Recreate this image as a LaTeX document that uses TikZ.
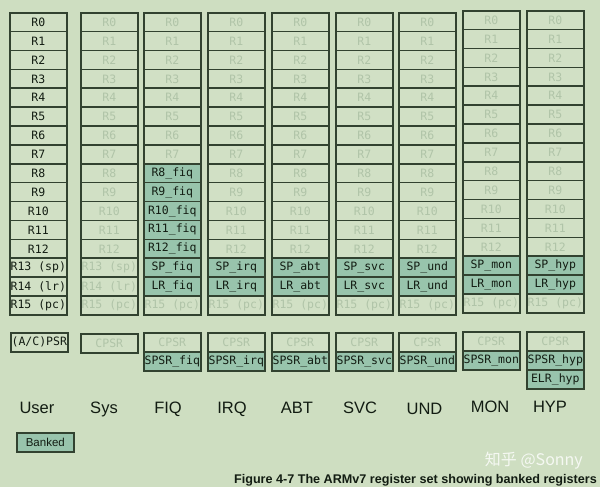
\documentclass[tikz,border=0pt]{standalone}
\usepackage{fontspec}
\setmainfont{Liberation Sans}
\newfontfamily\regfont{DejaVu Sans Mono}
\newfontfamily\cjkfont{Noto Sans CJK SC}
\definecolor{bg}{RGB}{206,222,193}
\definecolor{cellfill}{RGB}{209,224,197}
\definecolor{bankfill}{RGB}{152,196,172}
\definecolor{edge}{RGB}{50,66,48}
\definecolor{dim}{RGB}{176,196,168}
\definecolor{ink}{RGB}{18,28,18}
\tikzset{
  reg/.style={draw=edge, line width=1.6pt, fill=cellfill, minimum width=57pt,
    minimum height=18.875pt, inner sep=0pt, anchor=north west,
    font=\regfont\fontsize{11.5}{12}\selectfont, text=ink},
  dimreg/.style={reg, text=dim},
  bankreg/.style={reg, fill=bankfill},
  psr/.style={reg, minimum height=19pt},
  dimpsr/.style={psr, text=dim},
  bankpsr/.style={psr, fill=bankfill},
  modelabel/.style={font=\fontsize{16.5}{16.5}\selectfont, text=ink, anchor=base, inner sep=0pt},
}
\begin{document}
\begin{tikzpicture}[x=1pt,y=-1pt]
\fill[bg] (0,0) rectangle (600,487);
\useasboundingbox (0,0) rectangle (600,487);
% User column
\foreach \r in {0,...,12} \node[reg] (u\r) at (9,{12+\r*18.875}) {R\r};
\node[reg] (u13) at (9,{12+13*18.875}) {R13 (sp)};
\node[reg] (u14) at (9,{12+14*18.875}) {R14 (lr)};
\node[reg] (u15) at (9,{12+15*18.875}) {R15 (pc)};
% Sys column
\foreach \r in {0,...,12} \node[dimreg] (s\r) at (80,{12+\r*18.875}) {R\r};
\node[dimreg] (s13) at (80,{12+13*18.875}) {R13 (sp)};
\node[dimreg] (s14) at (80,{12+14*18.875}) {R14 (lr)};
\node[dimreg] (s15) at (80,{12+15*18.875}) {R15 (pc)};
% FIQ low registers
\foreach \r in {0,...,7} \node[dimreg] (f\r) at (143,{12+\r*18.875}) {R\r};
\foreach \r in {8,...,12} \node[bankreg] (f\r) at (143,{12+\r*18.875}) {R\r\_fiq};
% other modes low registers
\foreach \c/\x/\t in {i/207/12, a/271/12, v/335/12, d/398/12, m/462/10, h/526/10}
  \foreach \r in {0,...,12} \node[dimreg] (\c\r) at (\x,{\t+\r*18.875}) {R\r};
% banked SP, LR and shared PC
\foreach \c/\x/\t/\m in {f/143/12/fiq, i/207/12/irq, a/271/12/abt, v/335/12/svc, d/398/12/und, m/462/10/mon, h/526/10/hyp}{
  \node[bankreg] (\c13) at (\x,{\t+13*18.875}) {SP\_\m};
  \node[bankreg] (\c14) at (\x,{\t+14*18.875}) {LR\_\m};
  \node[dimreg] (\c15) at (\x,{\t+15*18.875}) {R15 (pc)};
}
% PSRs
\node[psr] (upsr) at (10,332) {(A/C)PSR};
\node[dimpsr] (spsr) at (80,333) {CPSR};
\foreach \c/\x/\t/\m in {f/143/332/fiq, i/207/332/irq, a/271/332/abt, v/335/332/svc, d/398/332/und, m/462/331/mon, h/526/331/hyp}{
  \node[dimpsr] (\c cpsr) at (\x,\t) {CPSR};
  \node[bankpsr] (\c spsr) at (\x,{\t+19}) {SPSR\_\m};
}
\node[bankpsr] (helr) at (526,{331+38}) {ELR\_hyp};
% mode labels
\node[modelabel] (lu) at (37,413) {User};
\node[modelabel] (ls) at (104,413) {Sys};
\node[modelabel] (lf) at (168,413) {FIQ};
\node[modelabel] (li) at (232,413) {IRQ};
\node[modelabel] (la) at (297,413) {ABT};
\node[modelabel] (lv) at (360,413) {SVC};
\node[modelabel] (ld) at (424.5,414) {UND};
\node[modelabel] (lm) at (490,412) {MON};
\node[modelabel] (lh) at (550,412) {HYP};
% legend
\node[draw=edge, line width=1.6pt, fill=bankfill, minimum width=57pt, minimum height=19pt,
  inner sep=0pt, anchor=north west, font=\fontsize{11.5}{11.5}\selectfont, text=ink] (legend) at (16,432) {Banked};
% watermark
\node[anchor=base east, inner sep=0pt, text=white, opacity=0.8,
  font=\cjkfont\fontsize{16}{16}\selectfont] (wm) at (583,465) {知乎 @Sonny};
% caption
\node[anchor=base east, inner sep=0pt, text=ink, font=\bfseries\fontsize{12.6}{13}\selectfont] (cap) at (597,483)
  {Figure 4-7 The ARMv7 register set showing banked registers};
\end{tikzpicture}
\end{document}
